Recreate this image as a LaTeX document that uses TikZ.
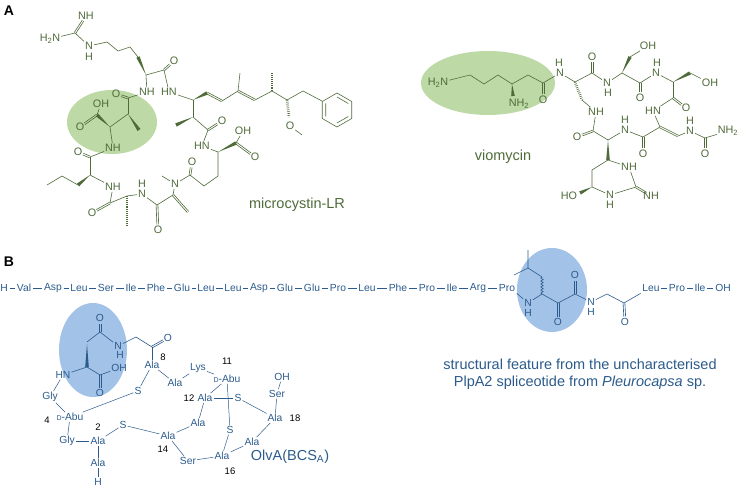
\documentclass[tikz,border=0pt]{standalone}
\usepackage{fontspec}
\setmainfont{Liberation Sans}
\usetikzlibrary{calc,decorations.pathmorphing}
\definecolor{gr}{HTML}{4F6B3A}
\definecolor{grE}{HTML}{BCD9A6}
\definecolor{bl}{HTML}{2B5B8C}
\definecolor{blE}{HTML}{A3C2E8}
\newcommand\wdg[2]{\fill #1 -- ($#2!1.8pt!90:#1$) -- ($#2!1.8pt!-90:#1$) -- cycle;}
\newcommand\hsh[2]{\draw[line width=2.6pt, dash pattern=on 0.6pt off 1.3pt] #1 -- #2;}
\newcommand\dpair{\draw ($(tA)!0.9pt!90:(tB)$) -- ($(tB)!0.9pt!-90:(tA)$); \draw ($(tA)!0.9pt!-90:(tB)$) -- ($(tB)!0.9pt!90:(tA)$);}
\newcommand\dbo[2]{\path #1 coordinate (tA); \path ($#2!5.5pt!(tA)$) coordinate (tB); \dpair}
\newcommand\dbc[2]{\path #1 coordinate (tA); \path #2 coordinate (tB); \dpair}
\begin{document}
\begin{tikzpicture}[x=1pt,y=-1pt,line width=0.6pt,
  every node/.style={inner sep=0.8pt},
  atm/.style={font=\fontsize{10.8}{11}\selectfont},
  atb/.style={font=\fontsize{10.3}{10}\selectfont},
  num/.style={font=\fontsize{9.5}{10}\selectfont,text=black},
  res/.style={font=\fontsize{10.3}{10}\selectfont,inner sep=1.5pt},
  lbl/.style={font=\fontsize{14.5}{16}\selectfont}]
\useasboundingbox (0,0) rectangle (740,487);
\node[font=\bfseries\fontsize{14}{14}\selectfont] (pA) at (9,11) {A};
\node[font=\bfseries\fontsize{14}{14}\selectfont] (pB) at (9,262) {B};
\fill[grE] (112,122) ellipse [x radius=45, y radius=32];
\fill[grE] (488,83) ellipse [x radius=67, y radius=32];
\fill[blE] (552,290) ellipse [x radius=35, y radius=42];
\fill[blE] (93,350) ellipse [x radius=34, y radius=47];
% ===== microcystin
\begin{scope}[draw=gr,fill=gr,text=gr,every node/.append style={atm}]
\node (nh1) at (86,16) {NH};
\node (h2n) at (50,39) {H\textsubscript{2}N};
\node (n1) at (89,46) {N}; \node (h1) at (89,57) {H};
\dbo{(75,33)}{(nh1)} \draw (75,33) -- (h2n); \draw (75,33) -- (n1);
\draw (n1) -- (107,42) -- (118,51) -- (130,47) -- (138,57);
\wdg{(146,75)}{(138,57)}
\node (nh2) at (147,92) {NH}; \node (hn3) at (169,92) {HN};
\node (o1) at (174,61) {O};
\draw (146,75) -- (nh2); \draw (146,75) -- (164,70); \dbo{(164,70)}{(o1)} \draw (164,70) -- (hn3);
\node (o2) at (116,94) {O};
\draw (nh2) -- (128,98); \dbo{(128,98)}{(o2)} \draw (128,98) -- (128,114);
\wdg{(128,114)}{(139,130)}
\draw (128,114) -- (110,127);
\wdg{(110,127)}{(97,115)}
\node (oh1) at (101,104) {OH}; \node (o3) at (80,127) {O};
\draw (97,115) -- (oh1); \dbo{(97,115)}{(o3)}
\node (nh4) at (113,148) {NH}; \draw (110,127) -- (nh4);
\node (o4) at (78,152) {O};
\draw (nh4) -- (90,157); \dbo{(90,157)}{(o4)} \draw (90,157) -- (90,175);
\wdg{(90,175)}{(78,185)}
\draw (78,185) -- (62,176) -- (47,185);
\node (nh5) at (113,187) {NH}; \draw (90,175) -- (nh5);
\node (o5) at (92,213) {O};
\draw (nh5) -- (110,203); \dbo{(110,203)}{(o5)} \draw (110,203) -- (127,196);
\hsh{(127,196)}{(127,225)}
\node (n6) at (142,194) {N}; \node (h6) at (142,184) {H};
\draw (127,196) -- (n6); \draw (n6) -- (157,205);
\node (o6) at (158,230) {O}; \dbo{(157,205)}{(o6)}
\draw (157,205) -- (173,195); \dbc{(173,195)}{(188,212)}
\node (n7) at (175,184) {N}; \draw (173,195) -- (n7); \draw (n7) -- (162,176); \draw (n7) -- (190,175);
\node (o7) at (192,162) {O}; \dbo{(190,175)}{(o7)}
\draw (190,175) -- (204,186) -- (218,176) -- (218,152);
\node (hn8) at (202,146) {HN}; \draw (218,152) -- (hn8);
\wdg{(218,152)}{(236,143)}
\node (oh8) at (243,131) {OH}; \node (o8) at (255,157) {O};
\draw (236,143) -- (oh8); \dbo{(236,143)}{(o8)}
\node (o9) at (222,121) {O};
\draw (hn8) -- (208,130); \dbo{(208,130)}{(o9)} \draw (208,130) -- (193,117);
\wdg{(193,117)}{(176,125)}
\draw (193,117) -- (193,100); \draw (hn3) -- (193,100);
\wdg{(193,100)}{(207,93)}
\dbc{(207,93)}{(222,101)} \draw (222,101) -- (238,91) -- (240,73);
\dbc{(238,91)}{(255,100)} \draw (255,100) -- (272,91);
\hsh{(272,91)}{(272,73)}
\draw (272,91) -- (287,100);
\hsh{(287,100)}{(289,117)}
\node (o10) at (290,126) {O}; \draw (o10) -- (302,135);
\draw (287,100) -- (303,91) -- (322,101);
\draw (337,110) +(30:17) -- +(90:17) -- +(150:17) -- +(210:17) -- +(270:17) -- +(330:17) -- cycle;
\draw (337,110) +(90:13) -- +(30:13) +(-30:13) -- +(-90:13) +(-150:13) -- +(150:13);
\node[lbl] (mc) at (297,205) {microcystin-LR};
\end{scope}
% ===== viomycin
\begin{scope}[draw=gr,fill=gr,text=gr,every node/.append style={atm}]
\node (h2nv) at (438,83) {H\textsubscript{2}N};
\draw (h2nv) -- (470,75) -- (484,84) -- (498,75) -- (512,84) -- (528,75) -- (543,83);
\wdg{(512,84)}{(513,96)}
\node (nh2v) at (519,104) {NH\textsubscript{2}};
\node (ov1) at (543,100) {O}; \dbo{(543,83)}{(ov1)}
\node (nv1) at (560,73) {N}; \node (hv1) at (559,63) {H};
\draw (543,83) -- (nv1); \draw (nv1) -- (575,82); \draw (575,82) -- (592,73);
\node (ov2) at (592,57) {O}; \dbo{(592,73)}{(ov2)}
\hsh{(575,82)}{(582,100)}
\node (nhv) at (596,112) {NH}; \draw (582,100) -- (nhv);
\node (nv2) at (607,83) {N}; \node (hv2) at (608,93) {H};
\draw (592,73) -- (nv2); \draw (nv2) -- (622,73);
\wdg{(622,73)}{(630,57)}
\node (ohv1) at (648,46) {OH}; \draw (630,57) -- (ohv1);
\draw (622,73) -- (640,83);
\node (ov3) at (640,98) {O}; \dbo{(640,83)}{(ov3)}
\node (nv3) at (656,73) {N}; \node (hv3) at (657,63) {H};
\draw (640,83) -- (nv3); \draw (nv3) -- (673,82);
\wdg{(673,82)}{(690,73)}
\node (ohv2) at (710,83) {OH}; \draw (690,73) -- (ohv2);
\draw (673,82) -- (673,98);
\node (ov4) at (686,108) {O}; \dbo{(673,98)}{(ov4)}
\node (hnv) at (653,111) {HN}; \draw (673,98) -- (hnv);
\draw (hnv) -- (660,127); \dbc{(660,127)}{(678,136)}
\node (nv4) at (690,131) {N}; \node (hv4) at (690,121) {H};
\draw (678,136) -- (nv4); \draw (nv4) -- (705,138);
\node (ov5) at (705,154) {O}; \dbo{(705,138)}{(ov5)}
\node (nh2v2) at (728,131) {NH\textsubscript{2}}; \draw (705,138) -- (nh2v2);
\draw (660,127) -- (643,137);
\node (ov6b) at (643,154) {O}; \dbo{(643,137)}{(ov6b)}
\node (nv5) at (625,130) {N}; \node (hv5) at (625,120) {H};
\draw (643,137) -- (nv5); \draw (nv5) -- (608,140); \draw (608,140) -- (593,131);
\node (ov6) at (577,137) {O}; \dbo{(593,131)}{(ov6)} \draw (593,131) -- (nhv);
\wdg{(608,140)}{(608,160)}
\node (nhr) at (629,167) {NH}; \draw (608,160) -- (nhr); \draw (nhr) -- (636,187);
\node (nhim) at (651,196) {NH}; \dbo{(636,187)}{(nhim)}
\node (nr2) at (610,195) {N}; \node (hr2) at (610,205) {H};
\draw (636,187) -- (nr2); \draw (nr2) -- (592,187) -- (592,170) -- (608,160);
\wdg{(592,187)}{(580,193)}
\node (hov) at (569,196) {HO};
\node[lbl] (vio) at (503,157) {viomycin};
\end{scope}
% ===== panel B sequence
\begin{scope}[draw=bl,text=bl]
\foreach \n/\x/\t in {r0/4/H,r1/24/Val,r2/53/Asp,r3/79/Leu,r4/106/Ser,r5/131/Ile,r6/156/Phe,r7/182/Glu,r8/206/Leu,r9/233/Leu,r10/259/Asp,r11/285/Glu,r12/312/Glu,r13/338/Pro,r14/367/Leu,r15/398/Phe,r16/427/Pro,r17/452/Ile,r18/478/Arg,r19/507/Pro,q1/651/Leu,q2/677/Pro,q3/700/Ile,q4/723/OH}
  \node[res] (\n) at (\x,288) {\t};
\foreach \a/\b in {r0/r1,r1/r2,r2/r3,r3/r4,r4/r5,r5/r6,r6/r7,r7/r8,r8/r9,r9/r10,r10/r11,r11/r12,r12/r13,r13/r14,r14/r15,r15/r16,r16/r17,r17/r18,r18/r19,q1/q2,q2/q3,q3/q4}
  \draw[line width=0.5pt] (\a) -- (\b);
\begin{scope}[every node/.append style={atb}]
\node (npl) at (528,303) {N}; \node (hpl) at (528,313) {H};
\draw (r19.south east) -- (npl); \draw (npl) -- (542,294);
\draw[decorate,decoration={snake,amplitude=1.2pt,segment length=3pt}] (542,294) -- (542,277);
\draw (542,277) -- (528,268) -- (528,250); \draw (528,268) -- (514,275);
\draw (542,294) -- (558,303);
\node (op1) at (558,322) {O}; \dbo{(558,303)}{(op1)}
\draw (558,303) -- (575,294);
\node (op2) at (575,275) {O}; \dbo{(575,294)}{(op2)}
\node (np2) at (591,302) {N}; \node (hp2) at (591,312) {H};
\draw (575,294) -- (np2); \draw (np2) -- (607,294) -- (624,303);
\node (op3) at (625,322) {O}; \dbo{(624,303)}{(op3)}
\draw (624,303) -- (q1.south west);
\end{scope}
\node[lbl] (cap1) at (580,364) {structural feature from the uncharacterised};
\node[lbl] (cap2) at (580,383) {PlpA2 spliceotide from \textit{Pleurocapsa} sp.};
% ===== OlvA
\begin{scope}[fill=bl,every node/.append style={atb}]
\node (oa1) at (100,318) {O}; \dbo{(100,332)}{(oa1)}
\node (na) at (118,346) {N}; \node (hna2) at (120,355) {H};
\draw (100,332) -- (na); \draw (100,332) -- (87,342);
\wdg{(87,344)}{(87,367)}
\node (hna) at (63,375) {HN}; \draw (87,367) -- (hna); \draw (87,367) -- (100,375);
\node (oha) at (119,368) {OH}; \draw (100,375) -- (oha);
\node (oa2) at (100,393) {O}; \dbo{(100,375)}{(oa2)}
\draw (na) -- (136,337) -- (152,347);
\node (oa3) at (168,338) {O}; \dbo{(152,347)}{(oa3)}
\node (a8) at (152,365) {Ala}; \draw (152,347) -- (a8);
\node (a9) at (175,383) {Ala};
\node (lys) at (198,368) {Lys};
\node (ab11) at (227,379) {{\fontsize{7}{7}\selectfont D}-Abu};
\node (oh) at (282,377) {OH};
\node (ser17) at (277,394) {Ser};
\node (a12) at (205,398) {Ala};
\node (s3) at (238,398) {S};
\node (s1) at (138,391) {S};
\node (gly5) at (50,397) {Gly};
\node (ab4) at (70,417) {{\fontsize{7}{7}\selectfont D}-Abu};
\node (a18) at (275,418) {Ala};
\node (a13) at (198,423) {Ala};
\node (s4) at (230,430) {S};
\node (s2) at (123,425) {S};
\node (gly3) at (67,441) {Gly};
\node (a2) at (98,441) {Ala};
\node (a14) at (168,436) {Ala};
\node (a17) at (252,442) {Ala};
\node (a16) at (222,456) {Ala};
\node (ser15) at (188,461) {Ser};
\node (a1) at (98,463) {Ala};
\node (hb) at (98,482) {H};
\foreach \a/\b in {hna/gly5,gly5/ab4,ab4/gly3,gly3/a2,a2/a1,a1/hb,a2/s2,s2/a14,a14/a13,a13/a12,a14/ser15,ser15/a16,a16/a17,a17/a18,a18/ser17,ser17/oh,a18/s3,s3/a12,ab11/a12,ab11/s4,s4/a16,a8/s1,s1/ab4,a8/a9,a9/lys,lys/ab11}
  \draw[line width=0.5pt] (\a) -- (\b);
\end{scope}
\node[lbl] (olva) at (290,457) {OlvA(BCS\textsubscript{A})};
\end{scope}
\node[num] (n8) at (163,357) {8};
\node[num] (n11) at (227,361) {11};
\node[num] (n12) at (189,398) {12};
\node[num] (n4) at (47,420) {4};
\node[num] (n2) at (98,427) {2};
\node[num] (n18) at (295,418) {18};
\node[num] (n14) at (163,449) {14};
\node[num] (n16) at (230,471) {16};
\end{tikzpicture}
\end{document}
